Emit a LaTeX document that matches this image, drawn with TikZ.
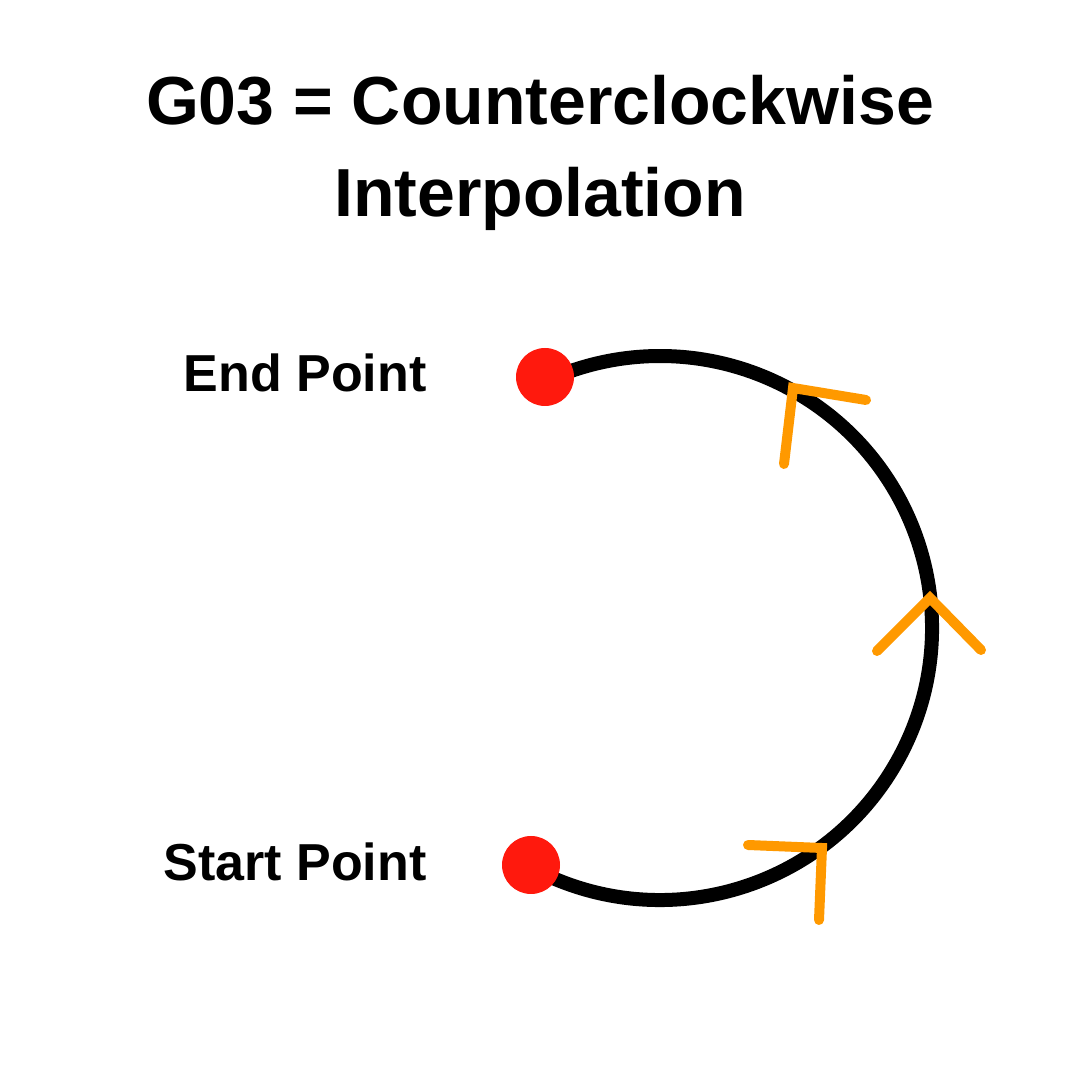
\documentclass[tikz,border=0pt]{standalone}
\usepackage{fontspec}
\setmainfont{Liberation Sans}
\usetikzlibrary{positioning}

\begin{document}
\begin{tikzpicture}[
			x=1pt, y=1pt,
			every node/.style={font=\bfseries},
			dot/.style={circle,fill=red!90!orange!95!white,draw=none,minimum size=58pt,inner sep=0pt},
			chev/.style={draw=orange!80!yellow,line width=10pt,line cap=round,line join=miter},
			pathline/.style={line width=14pt}
			]
			\useasboundingbox (0,0) rectangle (1080,1080);

			% title
			\node[font=\bfseries\fontsize{68}{80}\selectfont,align=center] (title) at (540,927) {G03 = Counterclockwise\\[12pt]Interpolation};

			% arc
			\coordinate (c) at (660,452);
			\draw[pathline] (c) ++(-119:272) arc[start angle=-119,end angle=115,radius=272];

			% points
			\node[dot] (start) at (531,215) {};
			\node[dot] (end) at (545,703) {};
			\node[font=\bfseries\fontsize{52}{60}\selectfont,anchor=east] (startlbl) at (430,218) {Start Point};
			\node[font=\bfseries\fontsize{52}{60}\selectfont,anchor=east] (endlbl) at (430,707) {End Point};

			% direction marks
			\draw[chev] (748,235) -- (822,232) -- (819,160);
			\draw[chev] (877,429) -- (930,482) -- (981,430);
			\draw[chev] (866,680) -- (793,692) -- (784,616);
\end{tikzpicture}
\end{document}
